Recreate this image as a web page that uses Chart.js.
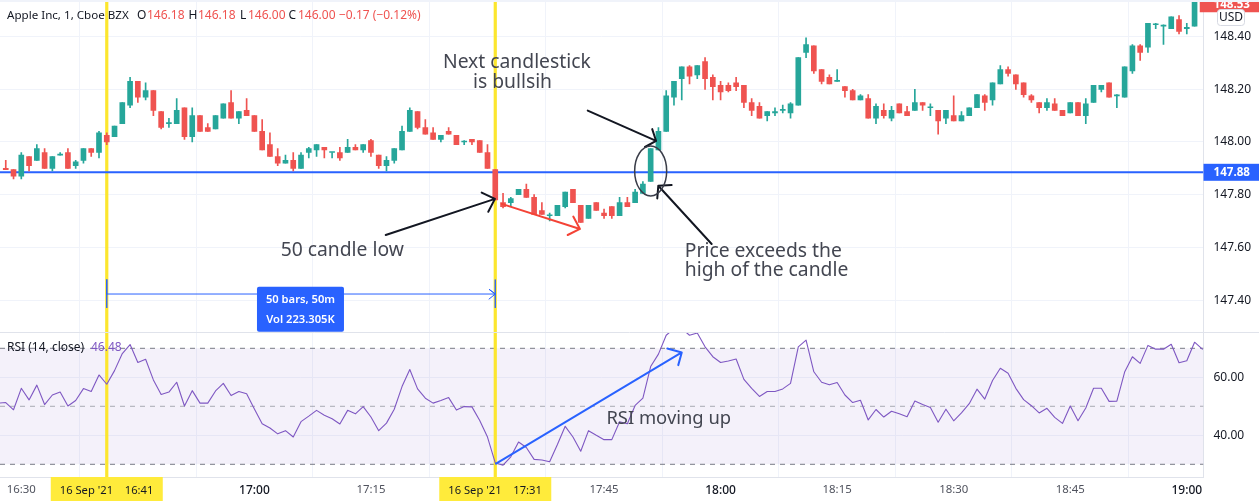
<!DOCTYPE html>
<html><head><meta charset="utf-8"><title>AAPL 1m</title>
<style>html,body{margin:0;padding:0;background:#fff;overflow:hidden}canvas{display:block}</style>
<script src="https://cdn.jsdelivr.net/npm/chart.js"></script></head>
<body><canvas id="c" width="1259" height="504"></canvas>
<script>
const FONT='"Noto Sans", sans-serif';
const firstMinute=-2, rsiFirstMinute=-3; // minutes after 16:30
const tickMinutes=[0,15,30,45,60,75,90,105,120,135,150];
const tickLabels=['16:30','16:45','17:00','17:15','17:30','17:45','18:00','18:15','18:30','18:45','19:00'];
const hourMinutes=[30,90,150];
const priceTicks=[147.4,147.6,147.8,148.0,148.2,148.4];
const rsiTicks=[40,60];
const priceRange=[147.2789,148.5313];
const rsiRange=[25.62,75.62];
const minuteRange=[-2.741,152.15];
const supportLevel=147.885;
const supportLabel='147.88';
const lastPrice=148.53;
const markedMinutes=[11,61];
const opens=[147.90,147.895,147.87,147.945,147.93,147.96,147.90,147.95,147.96,147.91,147.93,147.975,147.96,148.025,148.02,148.07,148.14,148.23,148.17,148.195,148.115,148.07,148.07,148.13,148.02,148.10,148.055,148.05,148.09,148.15,148.09,148.12,148.10,148.04,147.99,147.945,147.92,147.93,147.90,147.96,147.97,147.98,147.96,147.96,147.96,147.98,147.97,148.005,147.95,147.91,147.93,147.97,148.04,148.115,148.055,148.035,148.01,148.04,148.025,148.00,148.01,148.005,147.96,147.895,147.77,147.77,147.80,147.82,147.79,147.74,147.72,147.72,147.755,147.82,147.76,147.71,147.77,147.73,147.755,147.72,147.77,147.77,147.805,147.85,147.97,148.04,148.17,148.24,148.285,148.255,148.305,148.245,148.215,148.215,148.225,148.215,148.15,148.135,148.10,148.11,148.12,148.11,148.14,148.34,148.365,148.275,148.245,148.23,148.21,148.195,148.16,148.165,148.09,148.12,148.09,148.145,148.115,148.12,148.15,148.13,148.12,148.09,148.10,148.08,148.10,148.13,148.175,148.16,148.22,148.275,148.255,148.225,148.175,148.15,148.13,148.145,148.12,148.11,148.15,148.10,148.15,148.20,148.225,148.175,148.17,148.27,148.365,148.36,148.445,148.44,148.43,148.465,148.43,148.44];
const closes=[147.895,147.87,147.95,147.91,147.975,147.90,147.945,147.95,147.90,147.925,147.975,147.96,148.035,148.00,148.06,148.15,148.23,148.17,148.195,148.12,148.055,148.07,148.12,148.02,148.10,148.04,148.04,148.10,148.145,148.09,148.115,148.10,148.04,147.97,147.945,147.92,147.93,147.90,147.95,147.975,147.99,147.97,147.96,147.94,147.98,147.97,147.99,147.96,147.91,147.93,147.975,148.04,148.12,148.055,148.03,148.01,148.025,148.03,147.99,148.00,148.00,147.96,147.90,147.78,147.755,147.785,147.82,147.79,147.725,147.725,147.72,147.76,147.81,147.77,147.695,147.76,147.74,147.72,147.72,147.77,147.755,147.81,147.84,147.975,148.04,148.175,148.23,148.285,148.25,148.29,148.24,148.21,148.19,148.195,148.21,148.15,148.12,148.09,148.115,148.115,148.12,148.145,148.32,148.37,148.27,148.23,148.22,148.23,148.195,148.16,148.175,148.09,148.135,148.10,148.12,148.11,148.10,148.15,148.14,148.13,148.08,148.12,148.08,148.10,148.13,148.18,148.15,148.225,148.275,148.26,148.22,148.18,148.16,148.13,148.15,148.12,148.10,148.15,148.10,148.145,148.215,148.215,148.17,148.175,148.285,148.365,148.34,148.45,148.445,148.44,148.475,148.42,148.435,148.53];
const highs=[147.93,147.895,147.96,147.945,147.99,147.975,147.945,147.96,147.975,147.93,147.975,147.975,148.04,148.035,148.06,148.15,148.245,148.23,148.225,148.195,148.115,148.09,148.165,148.13,148.13,148.10,148.07,148.10,148.145,148.195,148.115,148.165,148.10,148.085,148.035,147.975,147.95,147.96,147.96,147.98,147.99,147.98,147.96,147.98,148.01,147.99,147.99,148.01,147.95,147.945,147.975,148.06,148.13,148.115,148.085,148.055,148.025,148.055,148.025,148.005,148.01,148.005,147.99,147.895,147.805,147.79,147.82,147.84,147.80,147.77,147.73,147.76,147.81,147.82,147.76,147.76,147.77,147.745,147.755,147.79,147.79,147.82,147.85,147.975,148.055,148.195,148.23,148.285,148.29,148.29,148.32,148.255,148.23,148.225,148.245,148.215,148.165,148.15,148.115,148.13,148.14,148.15,148.32,148.395,148.365,148.275,148.255,148.275,148.21,148.20,148.18,148.18,148.145,148.145,148.135,148.145,148.135,148.20,148.15,148.145,148.12,148.12,148.175,148.115,148.13,148.18,148.18,148.225,148.29,148.285,148.255,148.225,148.18,148.15,148.165,148.165,148.12,148.15,148.15,148.165,148.215,148.215,148.225,148.18,148.285,148.37,148.37,148.45,148.45,148.445,148.475,148.48,148.45,148.535];
const lows=[147.895,147.86,147.86,147.89,147.93,147.90,147.89,147.95,147.90,147.90,147.92,147.945,147.94,147.99,148.02,148.07,148.13,148.15,148.16,148.10,148.05,148.055,148.07,148.01,148.00,148.04,148.04,148.05,148.09,148.09,148.07,148.10,148.04,147.97,147.945,147.91,147.92,147.89,147.90,147.94,147.945,147.94,147.94,147.93,147.96,147.97,147.96,147.945,147.90,147.89,147.92,147.97,148.04,148.05,148.03,148.01,148.00,148.03,147.99,147.99,147.99,147.96,147.90,147.78,147.75,147.755,147.80,147.79,147.725,147.725,147.70,147.72,147.75,147.77,147.695,147.71,147.74,147.71,147.71,147.72,147.755,147.77,147.805,147.85,147.97,148.04,148.14,148.16,148.22,148.24,148.20,148.16,148.16,148.19,148.195,148.13,148.10,148.09,148.08,148.10,148.11,148.09,148.14,148.32,148.26,148.22,148.22,148.23,148.17,148.16,148.16,148.09,148.07,148.09,148.08,148.11,148.10,148.12,148.12,148.10,148.03,148.07,148.08,148.08,148.10,148.13,148.12,148.14,148.22,148.25,148.20,148.17,148.15,148.11,148.12,148.12,148.10,148.11,148.10,148.07,148.15,148.19,148.17,148.13,148.17,148.26,148.31,148.34,148.43,148.37,148.43,148.41,148.41,148.44];
const rsiValues=[51.1,51.3,48.8,56.2,52.2,57.3,50.6,53.9,54.9,50.1,52,56.1,55.1,60.8,57.6,62.3,68.2,71.3,65.1,66.2,59.1,54.1,54.9,58.3,50.1,55.4,51.1,51.1,55.3,57.9,53.7,55.1,54.3,49.1,44,42.5,40.5,41.6,39.4,44.7,46.6,48.6,46.9,45.7,43.9,48.6,47.4,49.9,46.3,41.6,44.2,49,56.8,62.7,56,52.8,51.1,52,53,48.7,49.9,49.8,45.1,39.4,30.5,29.7,32.6,37.7,35.8,31.7,31.5,30.9,36.8,43.1,39.4,34.5,41.6,40,38.5,38.5,44.7,44,50.3,52.8,63.7,68,74.5,76.8,76.8,74.5,75.3,70.5,67.1,65.1,65.6,66.3,59.3,56.2,53.4,55.1,55.1,56,57.9,70.5,72.8,61.9,58.3,57.4,58.2,53.9,51.3,52.1,45.3,48.9,46.3,48.3,47.4,46.4,51.8,50.6,49.6,44.5,49,45,47.7,50.9,55.9,52.5,58.9,63.1,61.4,56.2,52.3,50.2,47.7,49.3,46.2,44.1,50.1,45,49.4,56.2,56.2,51.7,51.8,61.8,67.1,64.8,71,69.7,69.7,71.4,65,65.7,72.1,69.7];
// Drawn annotations, as [minute, value] paths
const arrowLow=[[46.9,147.647],[60.96,147.784],[59.25,147.808],[60.96,147.784],[60.1,147.735]];
const arrowNext=[[72.9,148.119],[81.7,148.004],[81.2,148.049],[81.7,148.004],[80.27,147.981]];
const arrowHigh=[[88.85,147.613],[81.98,147.834],[81.85,147.786],[81.98,147.834],[83.7,147.837]];
const arrowDown=[[61.83,147.765],[71.9,147.67],[71.04,147.717],[71.9,147.67],[70.32,147.647]];
const arrowRsi=[[61.1,30.2],[85,68.56],[83.14,69.93],[85,68.56],[84.55,64.2]];
const measure=[[11,147.478],[11,147.37],[11,147.423],[61,147.423],[61,147.478],[61,147.37],[61,147.423],[60.2,147.441],[61,147.423],[60.2,147.404]];
const notes=[['Next candlestick',54.27,148.303],['is bullsih',58.13,148.224],['50 candle low',33.38,147.59],['Price exceeds the',85.4,147.586],['high of the candle',85.4,147.511]];
const rsiNote=['RSI moving up',75.3,45.6];
const ellipseCenter=[81.0,147.89], ellipseRadii=[2.06,0.095];
const measureCenter=[35.93,147.365];
const measureLines=['50 bars, 50m','Vol 223.305K'];

const GREEN='#26a69a',RED='#ef5350',BLUE='#2962ff',YELLOW='#fce62e',GRID='#f0f3fa',EDGE='#e0e3eb',INK='#131722',NOTE='#434651',PURPLE='#7e57c2';
const minuteAt=i=>firstMinute+i;
const wicks=highs.map((h,i)=>({x:minuteAt(i),y:[lows[i],h]}));
const bodies=opens.map((o,i)=>({x:minuteAt(i),y:[o,closes[i]]}));
const candleColor=ctx=>closes[ctx.dataIndex]>=opens[ctx.dataIndex]?GREEN:RED;
const rsiPoints=rsiValues.map((v,i)=>({x:rsiFirstMinute+i,y:v}));
const path=a=>a.map(p=>({x:p[0],y:p[1]}));
const across=v=>[{x:minuteRange[0],y:v},{x:minuteRange[1],y:v}];
const line=(data,yAxisID,color,width,order,extra={})=>Object.assign({type:'line',data,yAxisID,xAxisID:'x',borderColor:color,borderWidth:width,pointRadius:0,order,borderJoinStyle:'round',borderCapStyle:'round',tension:0},extra);
const yellowDatasets=markedMinutes.flatMap(m=>[
  line([{x:m,y:priceRange[0]},{x:m,y:priceRange[1]}],'y',YELLOW,3.2,95,{borderCapStyle:'butt'}),
  line([{x:m,y:rsiRange[0]},{x:m,y:rsiRange[1]}],'rsi',YELLOW,3.2,95,{borderCapStyle:'butt'})]);
const noPad=s=>{s.paddingTop=0;s.paddingBottom=0;s.paddingLeft=0;s.paddingRight=0;};

const overlay={id:'overlay',
 beforeDraw(chart){const c=chart.ctx;c.save();c.fillStyle='#fff';c.fillRect(0,0,chart.width,chart.height);c.fillStyle=GRID;c.fillRect(0,0,chart.width,chart.chartArea.top);c.restore();},
 afterDatasetsDraw(chart){
  const c=chart.ctx,X=chart.scales.x,Y=chart.scales.y,R=chart.scales.rsi,A=chart.chartArea;
  c.save();
  c.strokeStyle=EDGE;c.lineWidth=1;c.beginPath();c.moveTo(0,Y.bottom+0.5);c.lineTo(chart.width,Y.bottom+0.5);c.stroke();
  c.strokeStyle='#3a3d49';c.lineWidth=1.5;c.beginPath();
  const ex=X.getPixelForValue(ellipseCenter[0]),ey=Y.getPixelForValue(ellipseCenter[1]);
  const erx=X.getPixelForValue(ellipseCenter[0]+ellipseRadii[0])-ex,ery=ey-Y.getPixelForValue(ellipseCenter[1]+ellipseRadii[1]);
  c.ellipse(ex,ey,erx,ery,0,0,Math.PI*2);c.stroke();
  c.fillStyle=NOTE;c.font='19.3px '+FONT;c.textBaseline='middle';c.textAlign='left';
  notes.forEach(n=>c.fillText(n[0],X.getPixelForValue(n[1]),Y.getPixelForValue(n[2])));
  c.font='18.4px '+FONT;
  c.fillText(rsiNote[0],X.getPixelForValue(rsiNote[1]),R.getPixelForValue(rsiNote[2]));
  const mx=X.getPixelForValue(measureCenter[0]),my=Y.getPixelForValue(measureCenter[1]);
  c.fillStyle=BLUE;c.beginPath();c.roundRect(mx-43.5,my-22.5,87,45,2);c.fill();
  c.fillStyle='#fff';c.font='600 11.2px '+FONT;c.textAlign='center';
  c.fillText(measureLines[0],mx,my-9.5);c.fillText(measureLines[1],mx,my+10);
  c.textAlign='left';c.font='12px '+FONT;
  const T=(s,x,y,col)=>{c.fillStyle=col;c.fillText(s,x,y);};
  c.font='11.6px '+FONT;
  T('Apple Inc, 1, Cboe BZX',7,16,INK);
  c.font='12px '+FONT;
  T('O',137,16,INK);T('146.18',147,16,RED);T('H',188.5,16,INK);T('146.18',198,16,RED);
  T('L',240,16,INK);T('146.00',248,16,RED);T('C',288.5,16,INK);T('146.00',298,16,RED);
  T('\u22120.17 (\u22120.12%)',339,16,RED);
  T('RSI (14, close)',7,348,INK);T('46.48',91,348,PURPLE);
  c.restore();
 },
 afterDraw(chart){
  const c=chart.ctx,X=chart.scales.x,Y=chart.scales.y,A=chart.chartArea;
  c.save();
  const stamps=[["16 Sep '21",'16:41'],["16 Sep '21",'17:31']];
  markedMinutes.forEach((m,i)=>{const px=X.getPixelForValue(m);
    c.fillStyle='#ffeb3b';c.fillRect(px-56,A.bottom,112,24);
    c.fillStyle=INK;c.font='11.2px '+FONT;c.textBaseline='middle';c.textAlign='left';
    c.fillText(stamps[i][0],px-47,A.bottom+13.5);c.fillText(stamps[i][1],px+18,A.bottom+13.5);});
  const axisL=Y.left;
  const sy=Y.getPixelForValue(supportLevel);
  c.fillStyle=BLUE;c.fillRect(axisL,sy-8.5,chart.width-axisL,17);
  c.fillStyle='#fff';c.font='700 11.6px '+FONT;c.fillText(supportLabel,axisL+10,sy);
  c.save();c.beginPath();c.rect(axisL-4,A.top,chart.width-axisL+4,10.5);c.clip();
  c.fillStyle=RED;c.fillRect(axisL-4,A.top,chart.width-axisL+4,10.5);
  c.fillStyle='#fff';c.fillText(lastPrice.toFixed(2),axisL+10,4.5);c.restore();
  c.fillStyle='#fff';c.strokeStyle='#d6d9e2';c.lineWidth=1;c.beginPath();c.roundRect(1217.5,9.5,27,16,3);c.fill();c.stroke();
  c.fillStyle=INK;c.font='12px '+FONT;c.textAlign='center';c.fillText('USD',1231,17.5);
  c.restore();
 }};

new Chart(document.getElementById('c'),{
 type:'bar',
 plugins:[overlay],
 data:{datasets:[
  {label:'wicks',data:wicks,yAxisID:'y',xAxisID:'x',barThickness:1,grouped:false,backgroundColor:candleColor,order:11},
  {label:'bodies',data:bodies,yAxisID:'y',xAxisID:'x',barThickness:5,grouped:false,minBarLength:1,backgroundColor:candleColor,order:10},
  line(across(supportLevel),'y',BLUE,2,90,{borderCapStyle:'butt'}),
  ...yellowDatasets,
  line(across(70),'rsi','#787b86',1,98,{borderDash:[5,5],fill:{value:30},backgroundColor:'rgba(126,87,194,0.085)',borderCapStyle:'butt'}),
  line(across(50),'rsi','rgba(120,123,134,0.6)',1,97,{borderDash:[5,5],borderCapStyle:'butt'}),
  line(across(30),'rsi','#787b86',1,97,{borderDash:[5,5],borderCapStyle:'butt'}),
  line(rsiPoints,'rsi',PURPLE,1.1,5),
  line(path(measure),'y',BLUE,1,4),
  line(path(arrowLow),'y',INK,2,3),
  line(path(arrowNext),'y',INK,2,3),
  line(path(arrowHigh),'y',INK,2,3),
  line(path(arrowDown),'y','#f44336',2,3),
  line(path(arrowRsi),'rsi',BLUE,2,3)
 ]},
 options:{
  responsive:false,animation:false,devicePixelRatio:1,events:[],
  layout:{padding:{top:2,left:0,right:0,bottom:0}},
  plugins:{legend:{display:false},tooltip:{enabled:false},title:{display:false},filler:{propagate:false}},
  scales:{
   x:{type:'linear',position:'bottom',min:minuteRange[0],max:minuteRange[1],offset:false,
     grid:{color:GRID,drawTicks:false,lineWidth:1},border:{color:EDGE,display:true},
     afterFit(s){s.height=27;noPad(s);},
     afterBuildTicks(s){s.ticks=tickMinutes.map(v=>({value:v}));},
     ticks:{autoSkip:false,maxRotation:0,padding:6,
       font:ctx=>hourMinutes.includes(ctx.tick&&ctx.tick.value)?{family:FONT,size:12,weight:'500'}:{family:FONT,size:11.4},
       color:ctx=>hourMinutes.includes(ctx.tick.value)?INK:'#50535e',
       callback:v=>tickLabels[tickMinutes.indexOf(v)]}},
   y:{type:'linear',position:'right',stack:'panes',stackWeight:330,min:priceRange[0],max:priceRange[1],weight:0,
     grid:{color:GRID,drawTicks:false},border:{color:EDGE},
     afterFit(s){s.width=55.5;noPad(s);},
     afterBuildTicks(s){s.ticks=priceTicks.map(v=>({value:v}));},
     ticks:{padding:10,font:{family:FONT,size:12},color:'#131722',callback:v=>Number(v).toFixed(2)}},
   rsi:{type:'linear',position:'right',stack:'panes',stackWeight:145,min:rsiRange[0],max:rsiRange[1],weight:1,
     grid:{color:GRID,drawTicks:false},border:{color:EDGE},
     afterFit(s){s.width=55.5;noPad(s);},
     afterBuildTicks(s){s.ticks=rsiTicks.map(v=>({value:v}));},
     ticks:{padding:10,font:{family:FONT,size:12},color:'#131722',callback:v=>Number(v).toFixed(2)}}
  }
 }
});
</script></body></html>
